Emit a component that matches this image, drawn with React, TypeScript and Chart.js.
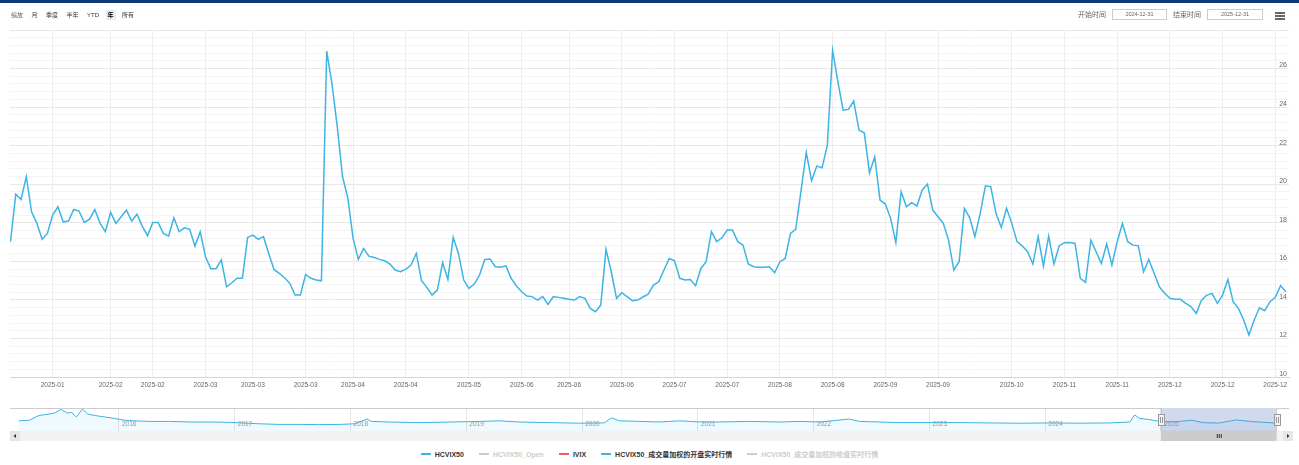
import React, { useEffect, useRef } from 'react';
import { Chart, registerables } from 'chart.js';

Chart.register(...registerables);

// ---------------- data ----------------
const hcvix50: number[] = [
  17.02, 19.49, 19.21, 20.39, 18.57, 17.97, 17.14, 17.45, 18.40, 18.83,
  18.05, 18.09, 18.69, 18.61, 18.02, 18.19, 18.69, 17.97, 17.54, 18.54,
  17.97, 18.31, 18.66, 18.09, 18.45, 17.83, 17.33, 18.02, 18.02, 17.45,
  17.31, 18.26, 17.54, 17.74, 17.66, 16.79, 17.54, 16.24, 15.62, 15.62,
  16.07, 14.68, 14.89, 15.12, 15.12, 17.24, 17.36, 17.14, 17.28, 16.41,
  15.58, 15.38, 15.15, 14.86, 14.25, 14.25, 15.32, 15.12, 15.03, 14.99,
  26.90, 25.20, 23.00, 20.40, 19.30, 17.20, 16.10, 16.67, 16.27, 16.20,
  16.10, 16.03, 15.86, 15.55, 15.46, 15.58, 15.81, 16.41, 15.00, 14.65,
  14.25, 14.51, 15.93, 15.06, 17.24, 16.41, 15.03, 14.60, 14.82, 15.29,
  16.10, 16.12, 15.72, 15.69, 15.76, 15.12, 14.72, 14.42, 14.20, 14.17,
  13.99, 14.17, 13.77, 14.17, 14.13, 14.08, 14.03, 13.99, 14.17, 14.08,
  13.56, 13.39, 13.73, 16.62, 15.46, 14.08, 14.37, 14.17, 13.96, 13.99,
  14.15, 14.30, 14.77, 14.94, 15.55, 16.15, 16.03, 15.12, 15.03, 15.06,
  14.74, 15.63, 15.98, 17.54, 17.02, 17.22, 17.62, 17.62, 17.02, 16.84,
  15.86, 15.72, 15.69, 15.69, 15.72, 15.41, 15.98, 16.15, 17.45, 17.66,
  19.66, 21.65, 20.18, 20.94, 20.85, 22.03, 26.95, 25.31, 23.84, 23.88,
  24.31, 22.81, 22.67, 20.59, 21.42, 19.18, 18.97, 18.23, 16.98, 19.61,
  18.83, 19.04, 18.87, 19.70, 20.01, 18.66, 18.31, 17.97, 17.10, 15.55,
  15.98, 18.75, 18.27, 17.28, 18.49, 19.92, 19.87, 18.49, 17.76, 18.75,
  17.97, 17.02, 16.79, 16.50, 15.86, 17.28, 15.76, 17.31, 15.86, 16.81,
  16.97, 16.98, 16.93, 15.12, 14.91, 17.10, 16.50, 15.89, 16.90, 15.81,
  17.02, 17.97, 17.02, 16.84, 16.81, 15.46, 16.10, 15.38, 14.68, 14.34,
  14.08, 14.03, 14.03, 13.82, 13.65, 13.30, 13.99, 14.25, 14.34, 13.82,
  14.25, 15.06, 13.91, 13.56, 12.96, 12.18, 12.96, 13.59, 13.44, 13.91,
  14.13, 14.74, 14.42,
];

// x-axis ticks: index of the trading day where each tick falls, and its label
const xTickIndex = [8, 19, 27, 37, 46, 56, 65, 75, 87, 97, 106, 116, 126, 136, 146, 156, 166, 176, 190, 200, 210, 220, 230, 240];
const xTickLabels = [
  '2025-01', '2025-02', '2025-02', '2025-03', '2025-03', '2025-03', '2025-04', '2025-04',
  '2025-05', '2025-06', '2025-06', '2025-06', '2025-07', '2025-07', '2025-08', '2025-08',
  '2025-09', '2025-09', '2025-10', '2025-11', '2025-11', '2025-12', '2025-12', '2025-12',
];

const yTickLabels = [10, 12, 14, 16, 18, 20, 22, 24, 26];
const yMin = 10;
const yMax = 28;
const yMinorStep = 0.4;

// navigator (full history, coarse)
const navDates = [
  '2015-02-19', '2015-03-24', '2015-04-24', '2015-05-26', '2015-06-11', '2015-07-03', '2015-07-22', '2015-08-04',
  '2015-08-20', '2015-09-08', '2015-09-24', '2015-10-16', '2015-11-17', '2015-12-18', '2016-01-19', '2016-02-20',
  '2016-04-07', '2016-06-09', '2016-08-12', '2016-10-14', '2016-12-16', '2017-01-23', '2017-03-19', '2017-05-21',
  '2017-07-24', '2017-09-25', '2017-11-28', '2018-01-15', '2018-02-22', '2018-03-07', '2018-05-03', '2018-08-06',
  '2018-11-10', '2019-02-13', '2019-04-15', '2019-06-17', '2019-09-20', '2019-12-24', '2020-03-11', '2020-04-03',
  '2020-04-28', '2020-07-01', '2020-09-02', '2020-11-04', '2021-01-07', '2021-03-09', '2021-06-12', '2021-09-16',
  '2021-11-18', '2022-01-20', '2022-04-23', '2022-05-25', '2022-07-27', '2022-09-28', '2023-01-02', '2023-04-05',
  '2023-07-09', '2023-10-12', '2024-01-15', '2024-04-18', '2024-07-22', '2024-09-24', '2024-10-09', '2024-10-25',
  '2024-11-26', '2024-12-27', '2025-02-13', '2025-04-08', '2025-05-15', '2025-07-01', '2025-08-25', '2025-10-15',
  '2025-12-31',
];
const navValues = [
  19.9, 21.3, 32.5, 36.0, 38.1, 46.5, 38.1, 39.5,
  29.0, 47.9, 36.0, 32.5, 29.0, 25.5, 21.3, 19.9,
  18.5, 18.5, 17.1, 17.1, 16.4, 15.0, 12.9, 11.5,
  11.5, 11.0, 11.5, 12.9, 24.1, 18.5, 17.1, 15.7,
  17.1, 18.5, 19.9, 17.1, 15.7, 14.3, 15.0, 26.9,
  19.9, 18.5, 17.1, 19.9, 17.1, 17.1, 18.5, 17.1,
  18.5, 17.1, 24.1, 18.5, 17.1, 15.7, 15.7, 15.7,
  15.0, 14.3, 15.0, 14.3, 15.0, 17.1, 33.9, 25.5,
  22.7, 18.5, 17.5, 21.3, 15.5, 14.5, 22.0, 18.0,
  14.5,
];
const navYears = [2016, 2017, 2018, 2019, 2020, 2021, 2022, 2023, 2024, 2025];

const rangeButtons = ['月', '季度', '半年', 'YTD', '年', '所有'];
const rangeSelected = 4;
const rangeStart = '2024-12-31';
const rangeEnd = '2025-12-31';

const legendNames = ['HCVIX50', 'HCVIX50_Open', 'IVIX', 'HCVIX50_成交量加权的开盘实时行情', 'HCVIX50_成交量加权的收盘实时行情'];
const legendColors = ['#3cb4e5', '#cccccc', '#f15c5c', '#3cb4e5', '#cccccc'];
const legendVisible = [true, false, true, true, false];

// ---------------- helpers ----------------
const FONT = '"Liberation Sans", "Noto Sans CJK SC", sans-serif';
const LINE = '#3cb4e5';

function yearFrac(s: string): number {
  const d = Date.parse(s + 'T00:00:00Z');
  const y = new Date(d).getUTCFullYear();
  const a = Date.UTC(y, 0, 1);
  const b = Date.UTC(y + 1, 0, 1);
  return y + (d - a) / (b - a);
}

function isMajor(v: number) {
  return Math.abs(v / 2 - Math.round(v / 2)) < 1e-6;
}

const navPlugin = {
  id: 'navExtras',
  afterDraw(chart: any) {
    const { ctx, chartArea: a, scales } = chart;
    const x = scales.x;
    ctx.save();
    // year labels
    ctx.font = `6.5px ${FONT}`;
    ctx.fillStyle = '#999999';
    ctx.textAlign = 'left';
    ctx.textBaseline = 'alphabetic';
    navYears.forEach((y) => {
      ctx.fillText(String(y), x.getPixelForValue(y) + 3, a.bottom - 5);
    });
    const x0 = x.getPixelForValue(yearFrac(rangeStart));
    const x1 = x.getPixelForValue(yearFrac(rangeEnd));
    // mask
    ctx.fillStyle = 'rgba(102,133,194,0.3)';
    ctx.fillRect(x0, a.top, x1 - x0, a.bottom - a.top);
    // outline
    ctx.strokeStyle = '#cccccc';
    ctx.lineWidth = 1;
    ctx.beginPath();
    ctx.moveTo(a.left, a.top + 0.5);
    ctx.lineTo(x0, a.top + 0.5);
    ctx.lineTo(x0, a.bottom);
    ctx.lineTo(x1, a.bottom);
    ctx.lineTo(x1, a.top + 0.5);
    ctx.lineTo(a.right, a.top + 0.5);
    ctx.stroke();
    // scrollbar
    const sy = a.bottom;
    const sh = 10;
    const sl = a.left;
    const sr = a.right + 4;
    ctx.fillStyle = '#f2f2f2';
    ctx.fillRect(sl, sy, sr - sl, sh);
    ctx.fillStyle = '#cccccc';
    ctx.fillRect(x0, sy, Math.min(x1, sr - 10) - x0, sh);
    const gx = (x0 + Math.min(x1, sr - 10)) / 2;
    ctx.strokeStyle = '#333333';
    ctx.beginPath();
    for (let k = -1; k <= 1; k++) {
      ctx.moveTo(gx + k * 2 + 0.5, sy + 3);
      ctx.lineTo(gx + k * 2 + 0.5, sy + sh - 3);
    }
    ctx.stroke();
    ctx.fillStyle = '#e6e6e6';
    ctx.fillRect(sl, sy, 10, sh);
    ctx.fillRect(sr - 10, sy, 10, sh);
    ctx.fillStyle = '#333333';
    ctx.beginPath();
    ctx.moveTo(sl + 3.5, sy + sh / 2);
    ctx.lineTo(sl + 6, sy + sh / 2 - 2);
    ctx.lineTo(sl + 6, sy + sh / 2 + 2);
    ctx.closePath();
    ctx.fill();
    ctx.beginPath();
    ctx.moveTo(sr - 3.5, sy + sh / 2);
    ctx.lineTo(sr - 6, sy + sh / 2 - 2);
    ctx.lineTo(sr - 6, sy + sh / 2 + 2);
    ctx.closePath();
    ctx.fill();
    // handles
    [x0, x1].forEach((hx) => {
      const hw = 6;
      const hh = 11;
      const hy = a.top + (a.bottom - a.top - hh) / 2;
      ctx.fillStyle = '#f2f2f2';
      ctx.strokeStyle = '#999999';
      ctx.fillRect(Math.round(hx - hw / 2) + 0.5, Math.round(hy) + 0.5, hw, hh);
      ctx.strokeRect(Math.round(hx - hw / 2) + 0.5, Math.round(hy) + 0.5, hw, hh);
      ctx.beginPath();
      ctx.moveTo(Math.round(hx - 1) + 0.5, hy + 3);
      ctx.lineTo(Math.round(hx - 1) + 0.5, hy + hh - 2);
      ctx.moveTo(Math.round(hx + 1) + 0.5, hy + 3);
      ctx.lineTo(Math.round(hx + 1) + 0.5, hy + hh - 2);
      ctx.stroke();
    });
    ctx.restore();
  },
};

export default function App() {
  const mainRef = useRef<HTMLCanvasElement>(null);
  const navRef = useRef<HTMLCanvasElement>(null);

  useEffect(() => {
    document.body.style.margin = '0';
    const yTicks: number[] = [];
    const nMinor = Math.round((yMax - yMin) / yMinorStep);
    for (let k = 0; k <= nMinor; k++) yTicks.push(Math.round((yMin + k * yMinorStep) * 100) / 100);

    const main = new Chart(mainRef.current as HTMLCanvasElement, {
      type: 'line',
      data: {
        datasets: [
          {
            label: legendNames[0],
            data: hcvix50.map((v, i) => ({ x: i, y: v })),
            borderColor: LINE,
            borderWidth: 1.5,
            pointRadius: 0,
            tension: 0,
            fill: false,
          },
        ],
      },
      options: {
        responsive: false,
        animation: false,
        events: [],
        layout: { padding: { left: 10, right: 10, top: 30, bottom: 0 } },
        plugins: { legend: { display: false }, tooltip: { enabled: false } },
        scales: {
          x: {
            type: 'linear',
            min: -0.095,
            max: 242.6,
            afterBuildTicks: (s: any) => {
              s.ticks = xTickIndex.map((v) => ({ value: v }));
            },
            afterFit: (s: any) => {
              s.height = 18;
            },
            grid: { color: '#ececec', drawTicks: false },
            border: { display: true, color: '#ccd6eb' },
            ticks: {
              autoSkip: false,
              maxRotation: 0,
              minRotation: 0,
              padding: 4,
              color: '#666666',
              font: { size: 6.5, family: FONT },
              callback: (v: any) => {
                const k = xTickIndex.indexOf(Number(v));
                return k >= 0 ? xTickLabels[k] : '';
              },
            },
          },
          y: {
            type: 'linear',
            position: 'right',
            min: yMin,
            max: yMax,
            afterBuildTicks: (s: any) => {
              s.ticks = yTicks.map((v) => ({ value: v }));
            },
            afterFit: (s: any) => {
              s.width = 0;
            },
            grid: {
              drawTicks: false,
              color: (c: any) => (isMajor(c.tick.value) ? '#e8e8e8' : '#f4f4f4'),
            },
            border: { display: false },
            ticks: {
              mirror: true,
              padding: -2,
              labelOffset: -3,
              autoSkip: false,
              color: '#666666',
              font: { size: 7, family: FONT },
              callback: (v: any) => (yTickLabels.indexOf(Number(v)) >= 0 ? String(v) : ''),
            },
          },
        },
      },
    } as any);

    const nav = new Chart(navRef.current as HTMLCanvasElement, {
      type: 'line',
      data: {
        datasets: [
          {
            data: navDates.map((d, i) => ({ x: yearFrac(d), y: navValues[i] })),
            borderColor: LINE,
            borderWidth: 1,
            pointRadius: 0,
            tension: 0,
            fill: 'start',
            backgroundColor: 'rgba(60,180,229,0.08)',
          },
        ],
      },
      options: {
        responsive: false,
        animation: false,
        events: [],
        layout: { padding: { left: 10, right: 10, top: 5, bottom: 14 } },
        plugins: { legend: { display: false }, tooltip: { enabled: false } },
        scales: {
          x: {
            type: 'linear',
            min: 2015.059,
            max: 2026.104,
            afterBuildTicks: (s: any) => {
              s.ticks = navYears.map((v) => ({ value: v }));
            },
            afterFit: (s: any) => {
              s.height = 0;
            },
            grid: { color: '#e6e6e6', drawTicks: false },
            border: { display: false },
            ticks: { display: false },
          },
          y: { display: false, min: -4, max: 50 },
        },
      },
      plugins: [navPlugin],
    } as any);

    return () => {
      main.destroy();
      nav.destroy();
    };
  }, []);

  const small: React.CSSProperties = { position: 'absolute', whiteSpace: 'nowrap', lineHeight: '10px' };

  return (
    <div
      style={{
        position: 'absolute',
        left: 0,
        top: 0,
        width: 1299,
        height: 465,
        background: '#ffffff',
        overflow: 'hidden',
        fontFamily: FONT,
      }}
    >
      <div style={{ position: 'absolute', left: 0, top: 0, width: 1299, height: 3, background: '#0e3a7a' }} />
      <canvas ref={mainRef} width={1299} height={395} style={{ position: 'absolute', left: 0, top: 0, width: 1299, height: 395 }} />
      <canvas ref={navRef} width={1299} height={42} style={{ position: 'absolute', left: 0, top: 403, width: 1299, height: 42 }} />

      {/* range selector */}
      <div style={{ ...small, left: 11, top: 10, display: 'flex', alignItems: 'center', gap: 2.5, fontSize: 6, color: '#333' }}>
        <span style={{ color: '#666', marginRight: 2 }}>缩放</span>
        {rangeButtons.map((b, i) => (
          <span
            key={b}
            style={{
              padding: '0 2px',
              height: 10,
              lineHeight: '10px',
              background: i === rangeSelected ? '#e6ebf5' : 'transparent',
              color: i === rangeSelected ? '#000' : '#333',
              fontWeight: i === rangeSelected ? 'bold' : 'normal',
              marginLeft: 2,
            }}
          >
            {b}
          </span>
        ))}
      </div>

      {/* date inputs */}
      <div style={{ ...small, left: 1078, top: 10, fontSize: 7, color: '#666' }}>开始时间</div>
      <div
        style={{
          ...small,
          left: 1112,
          top: 9,
          width: 55,
          height: 11,
          border: '1px solid #cccccc',
          boxSizing: 'border-box',
          fontSize: 5.5,
          color: '#666',
          textAlign: 'center',
          lineHeight: '9px',
        }}
      >
        {rangeStart}
      </div>
      <div style={{ ...small, left: 1173, top: 10, fontSize: 7, color: '#666' }}>结束时间</div>
      <div
        style={{
          ...small,
          left: 1207,
          top: 9,
          width: 56,
          height: 11,
          border: '1px solid #cccccc',
          boxSizing: 'border-box',
          fontSize: 5.5,
          color: '#666',
          textAlign: 'center',
          lineHeight: '9px',
        }}
      >
        {rangeEnd}
      </div>
      {[0, 1, 2].map((k) => (
        <div key={k} style={{ position: 'absolute', left: 1275, top: 12 + k * 3, width: 10, height: 2, background: '#666' }} />
      ))}

      {/* legend */}
      <div
        style={{
          position: 'absolute',
          left: 0,
          top: 449,
          width: 1299,
          display: 'flex',
          justifyContent: 'center',
          alignItems: 'center',
          gap: 15,
          fontSize: 7,
          fontWeight: 'bold',
          whiteSpace: 'nowrap',
        }}
      >
        {legendNames.map((n, i) => (
          <span key={n} style={{ display: 'flex', alignItems: 'center', color: legendVisible[i] ? '#333333' : '#cccccc' }}>
            <span style={{ display: 'inline-block', width: 10, height: 1.5, background: legendColors[i], marginRight: 4 }} />
            {n}
          </span>
        ))}
      </div>
    </div>
  );
}
